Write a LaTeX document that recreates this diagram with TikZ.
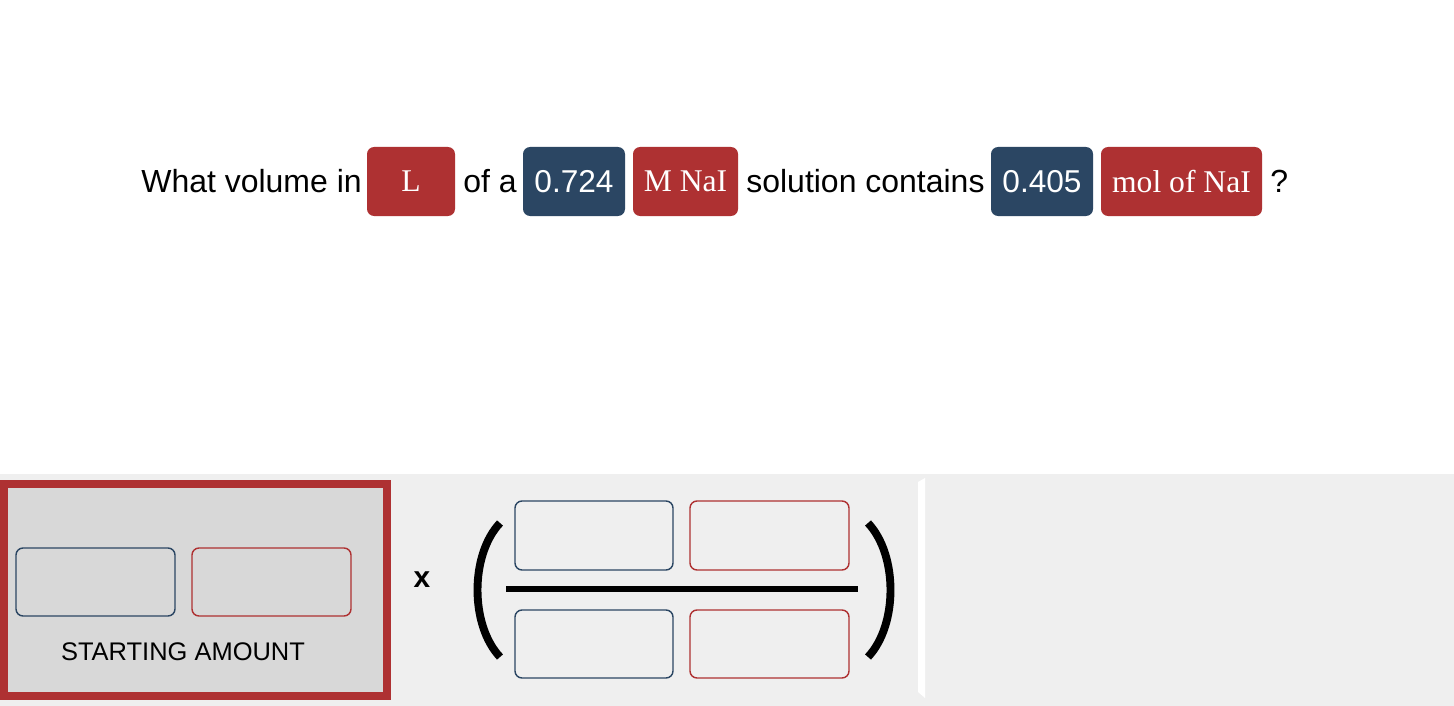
\documentclass[tikz,border=0pt]{standalone}
\usepackage{fontspec}
\setmainfont{Liberation Sans}
\newfontfamily\serifu{Liberation Serif}
\definecolor{qred}{HTML}{AE3132}
\definecolor{qblue}{HTML}{2B4663}
\definecolor{panel}{HTML}{EFEFEF}
\definecolor{startfill}{HTML}{D8D8D8}
\tikzset{
 txt/.style={font=\fontsize{18.2}{20}\selectfont, inner sep=0},
 chip/.style={rounded corners=4pt, text=white, anchor=center, minimum height=69*0.02cm, inner sep=0},
 redchip/.style={chip, fill=qred, font=\serifu\fontsize{18}{20}\selectfont},
 bluechip/.style={chip, fill=qblue, font=\fontsize{18}{20}\selectfont},
 slotb/.style={draw=qblue, line width=0.8pt, rounded corners=4pt},
 slotr/.style={draw=qred, line width=0.8pt, rounded corners=4pt},
}
\begin{document}
\begin{tikzpicture}[x=0.02cm,y=-0.02cm]
\useasboundingbox (0,0) rectangle (1454,706);
\fill[white] (0,0) rectangle (1454,706);
% question line
\node[txt, anchor=base west] (t1) at (141,193) {What volume in};
\node[redchip, minimum width=88*0.02cm] (c1) at (411,181.5) {L};
\node[txt, anchor=base west] (t2) at (463,193) {of a};
\node[bluechip, minimum width=102*0.02cm] (c2) at (574,181.5) {0.724};
\node[redchip, minimum width=105*0.02cm] (c3) at (685.5,181.5) {M NaI};
\node[txt, anchor=base west] (t3) at (746,193) {solution contains};
\node[bluechip, minimum width=102*0.02cm] (c4) at (1042,181.5) {0.405};
\node[redchip, minimum width=161*0.02cm] (c5) at (1181.5,181.5) {mol of NaI};
\node[txt, anchor=base west] (t4) at (1270,193) {?};
% panel
\fill[panel] (0,474) rectangle (1454,706);
\draw[qred, line width=4.5pt, fill=startfill] (4,484) rectangle (387,696);
\draw[slotb] (16,548) rectangle (175,616);
\draw[slotr] (192,548) rectangle (351,616);
\node[font=\fontsize{14.5}{16}\selectfont, inner sep=0] (sa) at (183,652) {STARTING AMOUNT};
\node[font=\bfseries\fontsize{17}{18}\selectfont, inner sep=0] (x) at (422,580) {x};
% parentheses
\draw[line width=4.5pt] (500,523) .. controls (470,555) and (470,625) .. (500,657);
\draw[line width=4.5pt] (868,523) .. controls (898,555) and (898,625) .. (868,657);
\draw[line width=3pt] (506,589) -- (858,589);
\draw[slotb] (515,501) rectangle (673,570);
\draw[slotr] (690,501) rectangle (849,570);
\draw[slotb] (515,610) rectangle (673,678);
\draw[slotr] (690,610) rectangle (849,678);
\fill[white] (918,482) -- (925,478) -- (925,698) -- (918,692) -- cycle;
\end{tikzpicture}
\end{document}
